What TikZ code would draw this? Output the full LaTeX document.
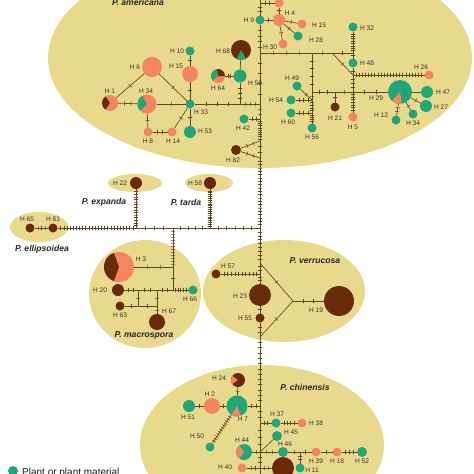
\documentclass[tikz,border=0pt]{standalone}
\usepackage{fontspec}
\setmainfont{Liberation Sans}
\definecolor{ellc}{HTML}{E8D98C}
\definecolor{gr}{HTML}{21A67A}
\definecolor{sa}{HTML}{F4855F}
\definecolor{br}{HTML}{6A2A08}
\definecolor{ln}{HTML}{5B4B1C}
\definecolor{labc}{HTML}{333333}
\tikzset{
  hap/.style={circle,inner sep=0pt,outer sep=0pt,fill=#1,draw=none},
  lnk/.style={draw=ln,line width=0.65pt},
  tk/.style={draw=ln,line width=0.55pt,shape=rectangle,inner sep=0pt,outer sep=0pt,minimum width=0pt,minimum height=4.2pt},
  lab/.style={font=\fontsize{6.6}{7}\selectfont,text=labc,inner sep=0pt},
  spc/.style={font=\fontsize{8.6}{9}\selectfont\bfseries\itshape,text=black!85,inner sep=0pt},
  ell/.style={fill=ellc}
}
\newcommand\edg[3]{\draw[lnk] (#1) -- (#2);\ifnum#3>0 \foreach \k in {1,...,#3}{\pgfmathsetmacro\pp{\k/(#3+1)}\path (#1) -- (#2) node[tk,sloped,pos=\pp]{};}\fi}
\newcommand\pie[5]{\fill[#5] (#1.center) -- ++(#3:#2) arc[start angle=#3, end angle=#4, radius=#2] -- cycle;}
\begin{document}
\begin{tikzpicture}[x=1pt,y=-1pt]
\useasboundingbox (0,0) rectangle (474,474);
\clip (0,0) rectangle (474,474);
% ellipses
\fill[ell] (260,58) ellipse [x radius=212, y radius=110];
\fill[ell] (39,227) ellipse [x radius=29, y radius=15];
\fill[ell] (135,183) ellipse [x radius=27, y radius=9];
\fill[ell] (209,183) ellipse [x radius=24, y radius=9];
\fill[ell] (145,294) ellipse [x radius=56, y radius=54];
\fill[ell] (284,291) ellipse [x radius=81, y radius=51];
\fill[ell] (262,445) ellipse [x radius=122, y radius=80];
% junction coordinates
\coordinate (tt) at (260,-4);
\coordinate (tb) at (260,480);
\coordinate (j3) at (260,3);
\coordinate (ja53) at (260,53);
\coordinate (j104) at (260,104);
\coordinate (j119) at (260,119);
\coordinate (j141) at (260,141);
\coordinate (j158) at (260,158);
\coordinate (jb240) at (240,104);
\coordinate (k312a) at (312,53);
\coordinate (k332) at (332,53);
\coordinate (k353a) at (353,53);
\coordinate (k353b) at (353,75);
\coordinate (k312b) at (312,92);
\coordinate (k335) at (335,92);
\coordinate (k353c) at (353,92);
\coordinate (k312c) at (312,100);
\coordinate (k312d) at (312,113);
\coordinate (m136) at (136,228);
\coordinate (m173) at (173,228);
\coordinate (m210) at (210,228);
\coordinate (j228) at (260,228);
\coordinate (m173b) at (173,267);
\coordinate (m173c) at (173,290);
\coordinate (m138a) at (138,290);
\coordinate (m138b) at (138,306);
\coordinate (m157a) at (157,290);
\coordinate (m157b) at (157,306);
\coordinate (j263) at (260,263);
\coordinate (j274) at (260,274);
\coordinate (j337) at (260,337);
\coordinate (vj) at (293,301);
\coordinate (j406) at (260,406);
\coordinate (j423) at (260,423);
\coordinate (j452) at (260,452);
\coordinate (c300) at (300,452);
\coordinate (j468) at (260,468);
% haplotype nodes - P. americana
\node[hap=gr,minimum size=9pt] (h10) at (190,51) {};
\node[hap=sa,minimum size=16pt] (h15a) at (190,74) {};
\node[hap=sa,minimum size=20pt] (h6) at (152,67) {};
\node[hap=sa,minimum size=16pt] (h1) at (110,103) {};
\node[hap=sa,minimum size=19pt] (h34a) at (147,104) {};
\node[hap=gr,minimum size=9pt] (h33) at (190,104) {};
\node[hap=sa,minimum size=9pt] (h8) at (148,132) {};
\node[hap=sa,minimum size=9pt] (h14) at (172,132) {};
\node[hap=gr,minimum size=12pt] (h53) at (190,132) {};
\node[hap=sa,minimum size=14pt] (h64) at (218,76) {};
\node[hap=br,minimum size=20pt] (h68) at (241,50) {};
\node[hap=gr,minimum size=13pt] (h59) at (240,76) {};
\node[hap=gr,minimum size=9pt] (h9) at (260,20) {};
\node[hap=sa,minimum size=9pt] (htop) at (279,3) {};
\node[hap=sa,minimum size=12pt] (h4) at (279,20) {};
\node[hap=sa,minimum size=9pt] (h15b) at (302,24) {};
\node[hap=gr,minimum size=9pt] (h28) at (298,36) {};
\node[hap=sa,minimum size=9pt] (h30) at (283,44) {};
\node[hap=gr,minimum size=9pt] (h32) at (353,27) {};
\node[hap=gr,minimum size=9pt] (h48) at (353,63) {};
\node[hap=sa,minimum size=9pt] (h26) at (429,75) {};
\node[hap=sa,minimum size=9pt] (h5) at (353,117) {};
\node[hap=br,minimum size=9pt] (h21) at (335,107) {};
\node[hap=gr,minimum size=24pt] (h29) at (400,92) {};
\node[hap=gr,minimum size=12pt] (h47) at (427,92) {};
\node[hap=gr,minimum size=12pt] (h27) at (426,106) {};
\node[hap=gr,minimum size=9pt] (h34b) at (413,114) {};
\node[hap=gr,minimum size=9pt] (h12) at (396,120) {};
\node[hap=gr,minimum size=9pt] (h49) at (297,86) {};
\node[hap=gr,minimum size=9pt] (h54) at (291,100) {};
\node[hap=gr,minimum size=9pt] (h60) at (291,113) {};
\node[hap=gr,minimum size=9pt] (h56) at (312,128) {};
\node[hap=gr,minimum size=9pt] (h42) at (244,119) {};
\node[hap=br,minimum size=10pt] (h82) at (236,150) {};
% middle species
\node[hap=br,minimum size=9pt] (h65) at (30,228) {};
\node[hap=br,minimum size=9pt] (h61) at (53,228) {};
\node[hap=br,minimum size=12pt] (h22) at (136,183) {};
\node[hap=br,minimum size=12pt] (h58) at (210,183) {};
\node[hap=sa,minimum size=30pt] (h3) at (119,267) {};
\node[hap=br,minimum size=12pt] (h20) at (118,290) {};
\node[hap=gr,minimum size=9pt] (h66) at (193,290) {};
\node[hap=br,minimum size=9pt] (h63) at (120,306) {};
\node[hap=br,minimum size=16pt] (h67) at (157,322) {};
\node[hap=br,minimum size=9pt] (h57) at (216,274) {};
\node[hap=br,minimum size=22pt] (h23) at (260,295) {};
\node[hap=br,minimum size=9pt] (h55) at (260,318) {};
\node[hap=br,minimum size=30pt] (h19) at (339,301) {};
% P. chinensis
\node[hap=br,minimum size=14pt] (h24) at (238,380) {};
\node[hap=gr,minimum size=21pt] (h7) at (237,406) {};
\node[hap=sa,minimum size=16pt] (h2) at (212,406) {};
\node[hap=gr,minimum size=12pt] (h51) at (189,406) {};
\node[hap=gr,minimum size=9pt] (h50) at (210,447) {};
\node[hap=gr,minimum size=9pt] (h37) at (276,423) {};
\node[hap=sa,minimum size=9pt] (h38) at (302,423) {};
\node[hap=gr,minimum size=10pt] (h45) at (277,436) {};
\node[hap=gr,minimum size=16pt] (h44) at (244,452) {};
\node[hap=gr,minimum size=10pt] (h46) at (283,452) {};
\node[hap=sa,minimum size=9pt] (h39) at (316,452) {};
\node[hap=sa,minimum size=9pt] (h18) at (337,452) {};
\node[hap=gr,minimum size=10pt] (h52) at (362,452) {};
\node[hap=gr,minimum size=9pt] (h11) at (300,468) {};
\node[hap=sa,minimum size=9pt] (h40) at (242,468) {};
\node[hap=br,minimum size=22pt] (hx) at (283,468) {};
% edges: trunk
\edg{tt}{j3}{0}
\edg{j3}{h9}{2}
\edg{h9}{ja53}{4}
\edg{ja53}{j104}{4}
\edg{j104}{j119}{2}
\edg{j119}{j141}{9}
\edg{j141}{j158}{2}
\edg{j158}{j228}{20}
\edg{j228}{j263}{8}
\edg{j263}{j274}{2}
\edg{j274}{h23}{2}
\edg{h23}{h55}{1}
\edg{h55}{j337}{2}
\edg{j337}{j406}{12}
\edg{j406}{j423}{2}
\edg{j423}{j452}{3}
\edg{j452}{j468}{2}
\edg{j468}{tb}{1}
% P. americana left
\edg{h1}{h34a}{2}
\edg{h34a}{h33}{1}
\edg{h33}{jb240}{3}
\edg{jb240}{j104}{3}
\edg{h6}{h1}{1}
\edg{h6}{h33}{1}
\edg{h34a}{h8}{1}
\edg{h8}{h14}{2}
\edg{h14}{h33}{1}
\edg{h33}{h53}{1}
\edg{h33}{h15a}{1}
\edg{h15a}{h10}{1}
\edg{h64}{h59}{2}
\edg{h68}{h59}{0}
\edg{h59}{jb240}{3}
\edg{h42}{j119}{2}
\edg{h82}{j141}{2}
\edg{h82}{j158}{2}
% P. americana right
\edg{j3}{htop}{2}
\edg{htop}{h4}{1}
\edg{h9}{h4}{1}
\edg{h4}{h15b}{1}
\edg{h4}{h28}{1}
\edg{h4}{h30}{1}
\edg{ja53}{k312a}{3}
\edg{k312a}{k332}{1}
\edg{k332}{k353a}{1}
\edg{h32}{k353a}{8}
\edg{k353a}{h48}{1}
\edg{h48}{k353b}{1}
\edg{k332}{k353b}{1}
\edg{k353b}{h26}{22}
\edg{k353b}{k353c}{3}
\edg{k353c}{h5}{7}
\edg{k312a}{k312b}{4}
\edg{k312b}{k312c}{1}
\edg{k312c}{k312d}{4}
\edg{k312d}{h56}{4}
\edg{k312b}{k335}{2}
\edg{k335}{k353c}{1}
\edg{k353c}{h29}{2}
\edg{k335}{h21}{1}
\edg{h49}{k312c}{1}
\edg{h54}{k312c}{3}
\edg{h60}{k312d}{3}
\edg{h29}{h47}{0}
\edg{h29}{h27}{1}
\edg{h29}{h34b}{1}
\edg{h29}{h12}{2}
% middle
\edg{h65}{h61}{3}
\edg{h61}{m136}{24}
\edg{m136}{m173}{3}
\edg{m173}{m210}{4}
\edg{m210}{j228}{5}
\edg{h22}{m136}{14}
\edg{h58}{m210}{20}
\edg{m173}{m173b}{12}
\edg{m173b}{m173c}{1}
\edg{h3}{m173b}{2}
\edg{h20}{m138a}{2}
\edg{m138a}{m157a}{2}
\edg{m157a}{m173c}{2}
\edg{m173c}{h66}{5}
\edg{m138a}{m138b}{1}
\edg{m157a}{m157b}{1}
\edg{m157b}{h67}{1}
\edg{h63}{m138b}{1}
\edg{m138b}{m157b}{1}
% verrucosa
\edg{h57}{j274}{10}
\edg{j263}{vj}{1}
\edg{vj}{j337}{1}
\edg{vj}{h19}{2}
% chinensis
\edg{h51}{h2}{1}
\edg{h2}{h7}{1}
\edg{h7}{j406}{2}
\edg{h24}{h7}{1}
\edg{h50}{h7}{12}
\edg{j423}{h37}{2}
\edg{h37}{h38}{4}
\edg{j452}{h45}{0}
\edg{h44}{j452}{1}
\edg{j452}{h46}{2}
\edg{h46}{c300}{1}
\edg{c300}{h39}{1}
\edg{h39}{h18}{1}
\edg{h18}{h52}{3}
\edg{c300}{h11}{2}
\edg{h40}{j468}{2}
\edg{j468}{hx}{2}
% pie wedges (code angle = minus screen angle)
\pie{h1}{8}{-125}{-235}{br}
\pie{h34a}{9.5}{-120}{-225}{gr}
\pie{h64}{7}{0}{-100}{br}
\pie{h64}{7}{-100}{-220}{gr}
\pie{h68}{10}{-245}{-300}{gr}
\pie{h29}{12}{-228}{-278}{sa}
\pie{h3}{15}{-110}{-250}{br}
\pie{h24}{7}{-145}{-215}{sa}
\pie{h7}{10.5}{-238}{-292}{sa}
\pie{h44}{8}{-125}{-235}{sa}
% labels
\node[lab] (l10) at (177,51) {H 10};
\node[lab] (l15a) at (176,66) {H 15};
\node[lab] (l6) at (135,67) {H 6};
\node[lab] (l1) at (110,91) {H 1};
\node[lab] (l34a) at (146,91) {H 34};
\node[lab] (l33) at (201,112) {H 33};
\node[lab] (l8) at (148,141) {H 8};
\node[lab] (l14) at (173,141) {H 14};
\node[lab] (l53) at (205,131) {H 53};
\node[lab] (l64) at (218,88) {H 64};
\node[lab] (l68) at (223,51) {H 68};
\node[lab] (l59) at (255,83) {H 59};
\node[lab] (l9) at (249,20) {H 9};
\node[lab] (l4) at (290,13) {H 4};
\node[lab] (l15b) at (319,25) {H 15};
\node[lab] (l28) at (316,40) {H 28};
\node[lab] (l30) at (270,47) {H 30};
\node[lab] (l32) at (367,28) {H 32};
\node[lab] (l48) at (367,63) {H 48};
\node[lab] (l26) at (421,67) {H 26};
\node[lab] (l5) at (353,127) {H 5};
\node[lab] (l21) at (335,118) {H 21};
\node[lab] (l29) at (376,98) {H 29};
\node[lab] (l47) at (443,92) {H 47};
\node[lab] (l27) at (441,107) {H 27};
\node[lab] (l34b) at (413,123) {H 34};
\node[lab] (l12) at (381,115) {H 12};
\node[lab] (l49) at (292,78) {H 49};
\node[lab] (l54) at (276,100) {H 54};
\node[lab] (l60) at (288,122) {H 60};
\node[lab] (l56) at (312,137) {H 56};
\node[lab] (l42) at (243,128) {H 42};
\node[lab] (l82) at (233,160) {H 82};
\node[lab] (l65) at (27,219) {H 65};
\node[lab] (l61) at (53,219) {H 61};
\node[lab] (l22) at (120,183) {H 22};
\node[lab] (l58) at (195,183) {H 58};
\node[lab] (l3) at (141,259) {H 3};
\node[lab] (l20) at (100,290) {H 20};
\node[lab] (l66) at (190,299) {H 66};
\node[lab] (l63) at (120,315) {H 63};
\node[lab] (l67) at (169,311) {H 67};
\node[lab] (l57) at (228,266) {H 57};
\node[lab] (l23) at (240,296) {H 23};
\node[lab] (l55) at (245,318) {H 55};
\node[lab] (l19) at (316,310) {H 19};
\node[lab] (l24) at (219,378) {H 24};
\node[lab] (l2) at (210,394) {H 2};
\node[lab] (l51) at (188,417) {H 51};
\node[lab] (l7) at (243,419) {H 7};
\node[lab] (l50) at (197,436) {H 50};
\node[lab] (l37) at (277,414) {H 37};
\node[lab] (l38) at (316,423) {H 38};
\node[lab] (l45) at (291,432) {H 45};
\node[lab] (l44) at (242,440) {H 44};
\node[lab] (l46) at (285,444) {H 46};
\node[lab] (l39) at (316,461) {H 39};
\node[lab] (l18) at (337,461) {H 18};
\node[lab] (l52) at (362,461) {H 52};
\node[lab] (l11) at (312,470) {H 11};
\node[lab] (l40) at (225,467) {H 40};
% species labels
\node[spc] (sam) at (138,2) {P. americana};
\node[spc] (sex) at (104,202) {P. expanda};
\node[spc] (sta) at (186,202) {P. tarda};
\node[spc] (sel) at (42,249) {P. ellipsoidea};
\node[spc] (sma) at (144,335) {P. macrospora};
\node[spc] (sve) at (315,261) {P. verrucosa};
\node[spc] (sch) at (305,387) {P. chinensis};
% legend
\node[hap=gr,minimum size=10pt] (lg) at (13,471) {};
\node[anchor=base west,inner sep=0pt,font=\fontsize{10}{12}\selectfont,text=black!90] (lgt) at (22,475) {Plant or plant material};
\end{tikzpicture}
\end{document}
